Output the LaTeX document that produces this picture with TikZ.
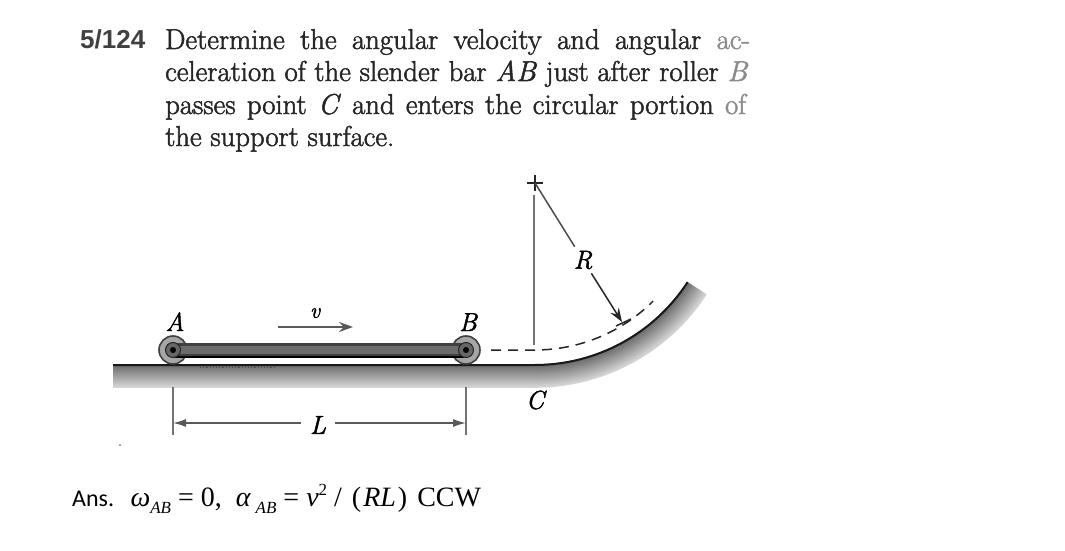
\documentclass[tikz,border=0pt]{standalone}
\usepackage{fontspec}
\newfontfamily\ansfont{Carlito}
\newfontfamily\timesfont{Liberation Serif}
\newfontfamily\numfont{Liberation Sans}
\newfontfamily\bookfont[FakeBold=1.8]{Latin Modern Roman}
\usetikzlibrary{positioning,arrows.meta}
\definecolor{fade}{gray}{0.55}
\newcommand{\bookline}[2]{\makebox[#1][s]{#2}}
\newcommand{\subAB}{\raisebox{-7pt}{\fontsize{17}{17}\selectfont\itshape AB}}
\tikzset{
	booktext/.style={anchor=base west,inner sep=0pt,font=\fontsize{28.7}{30}\selectfont\bookfont,text=black!85},
	letter/.style={inner sep=0pt,font=\fontsize{26}{28}\selectfont\bookfont\itshape},
	roller/.style={circle,draw=black!75,line width=1.6pt,fill=black!35,minimum size=28pt,inner sep=0pt},
	hub/.style={circle,draw=black!85,line width=1pt,fill=black!60,minimum size=15pt,inner sep=0pt},
	pin/.style={circle,fill=black,minimum size=6pt,inner sep=0pt},
	extline/.style={black!55,line width=1.5pt},
	dimline/.style={-{Latex[length=13pt,width=8pt]},black!65,line width=1.4pt},
	thinline/.style={black!85,line width=1.5pt}
}
\begin{document}
\begin{tikzpicture}[x=1pt,y=1pt]
	\useasboundingbox (0,0) rectangle (1065,550);
	% problem text
	\node[anchor=base west,inner sep=0pt,font=\fontsize{26}{30}\selectfont\numfont\bfseries,text=black!75] (number) at (80,501) {5/124};
	\node[booktext] (lineone) at (165,501) {\bookline{585pt}{Determine the angular velocity and angular \textcolor{fade}{ac-}}};
	\node[booktext] (linetwo) at (165,469) {\bookline{583pt}{celeration of the slender bar \textit{AB} just after roller \textcolor{fade}{\textit{B}}}};
	\node[booktext] (linethree) at (165,436) {\bookline{581pt}{passes point \textit{C} and enters the circular portion \textcolor{fade}{of}}};
	\node[booktext] (linefour) at (165,404) {the support surface.};
	% ground
	\foreach \d in {22,21,...,0}{
		\pgfmathsetmacro{\shade}{58-42*\d/22}
		\draw[black!\shade!white,line width=1.6pt] (113,185-\d)--(535,185-\d) arc (270:327:182+\d);
	}
	\draw[black!90,line width=2pt] (113,185)--(535,185) arc (270:327:182);
	\draw[black!70,line width=1.2pt,dotted] (200,182.5)--(276,182.5);
	% bar and rollers
	\node[roller] (rollerA) at (173,200) {};
	\node[roller] (rollerB) at (466,200) {};
	\draw[black!75,line width=14pt] (rollerA.center)--(rollerB.center);
	\draw[black!58,line width=8pt] (rollerA.center)--(rollerB.center);
	\draw[black,line width=1.8pt] ([yshift=-7pt]rollerA.center)--([yshift=-7pt]rollerB.center);
	\node[hub] (hubA) at (rollerA) {};
	\node[hub] (hubB) at (rollerB) {};
	\node[pin] at (hubA) {};
	\node[pin] at (hubB) {};
	\node[letter,above=4pt of rollerA,xshift=2pt] (labelA) {A};
	\node[letter,above=4pt of rollerB,xshift=2pt] (labelB) {B};
	% velocity
	\coordinate (vstart) at (278,223);
	\coordinate (vend) at (353,223);
	\draw[dimline,-{Stealth[length=14pt,width=10pt,inset=5pt]}] (vstart)--(vend);
	\node[letter,font=\fontsize{22}{24}\selectfont\bookfont\itshape] (labelv) at (315,237) {v};
	% dimension L
	\coordinate (extA) at (173,163);
	\coordinate (extAend) at (173,115);
	\coordinate (extB) at (466,163);
	\coordinate (extBend) at (466,115);
	\coordinate (dimA) at (173,127);
	\coordinate (dimB) at (466,127);
	\draw[extline] (extA)--(extAend);
	\draw[extline] (extB)--(extBend);
	\node[letter,fill=white,inner xsep=9pt,inner ysep=2pt] (labelL) at (318,125) {L};
	\draw[dimline] (labelL.west|-dimA)--(dimA);
	\draw[dimline] (labelL.east|-dimB)--(dimB);
	% radius
	\coordinate (centre) at (535,367);
	\coordinate (footC) at (534,205);
	\coordinate (Rend) at (622,228);
	\coordinate (tickL) at (616,224);
	\coordinate (tickR) at (631,231);
	\draw[black!85,line width=2pt] (527,367)--(543,367) (535,359)--(535,375);
	\draw[black!55,line width=1.5pt] (534,355)--(footC);
	\node[letter,fill=white,inner sep=4pt] (labelR) at (583,290) {R};
	\draw[black!70,line width=1.5pt] (centre)--(labelR);
	\draw[thinline,-{Stealth[length=14pt,width=10pt,inset=5pt]}] (labelR)--(Rend);
	\draw[thinline] (tickL)--(tickR);
	\draw[black!85,line width=1.5pt,dash pattern=on 10pt off 7pt] (491,200)--(535,200) arc (270:315:167);
	\node[letter] (labelC) at (535,150) {C};
	\fill[black!60] (120,105) circle (1);
	% answer
	\node[anchor=base west,inner sep=0pt,font=\fontsize{24}{28}\selectfont\ansfont] (ans) at (72,44) {Ans.};
	\node[right=16pt of ans.base east,anchor=base west,inner sep=0pt,font=\fontsize{28}{32}\selectfont\timesfont] (result) {\textit{ω}\subAB{} = 0,\ \ \textit{α}\,\subAB{} = \textit{v}\raisebox{11pt}{\fontsize{17}{17}\selectfont 2} / \kern3pt(\kern2pt\textit{RL}\kern2pt)\kern3pt\ CCW};
\end{tikzpicture}
\end{document}
